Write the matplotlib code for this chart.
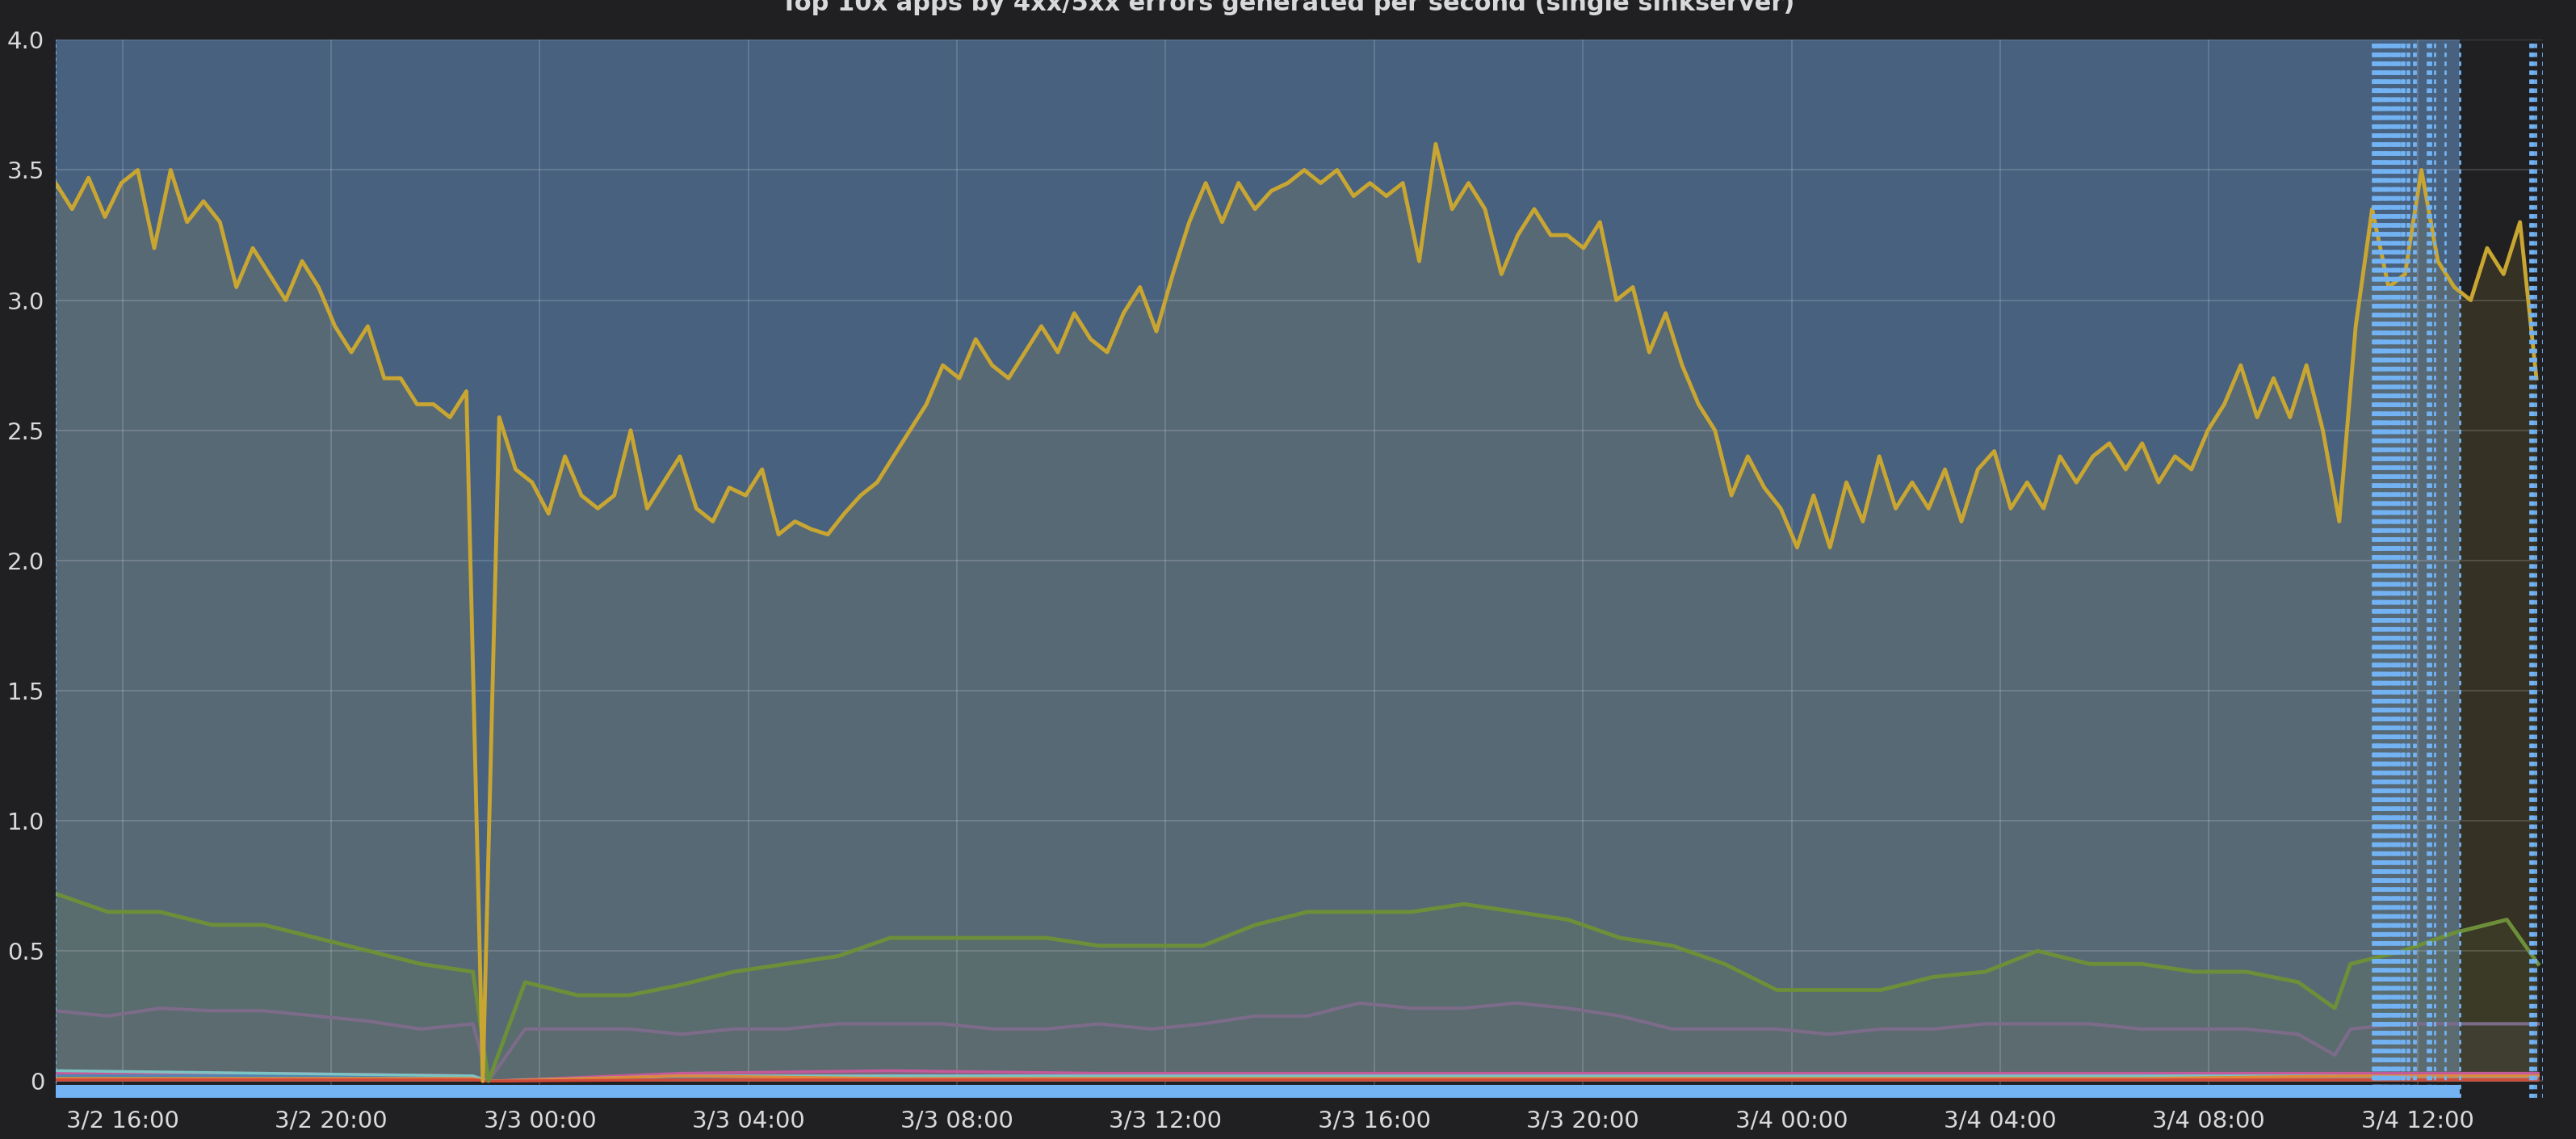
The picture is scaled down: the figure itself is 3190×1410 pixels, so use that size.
import matplotlib
matplotlib.use("Agg")
import matplotlib.pyplot as plt
import matplotlib.dates as mdates
import pandas as pd
import numpy as np

start = pd.Timestamp("2024-03-02 14:43")
end = pd.Timestamp("2024-03-04 14:24")

yellow_vals = [3.45,3.35,3.47,3.32,3.45,3.5,3.2,3.5,3.3,3.38,3.3,3.05,3.2,3.1,3.0,3.15,3.05,2.9,2.8,2.9,2.7,2.7,2.6,2.6,2.55,2.65,0.0,
 2.55,2.35,2.3,2.18,2.4,2.25,2.2,2.25,2.5,2.2,2.3,2.4,2.2,2.15,2.28,2.25,2.35,2.1,2.15,2.12,2.1,2.18,2.25,2.3,2.4,2.5,2.6,2.75,2.7,2.85,
 2.75,2.7,2.8,2.9,2.8,2.95,2.85,2.8,2.95,3.05,2.88,3.1,3.3,3.45,3.3,3.45,3.35,3.42,3.45,3.5,3.45,3.5,3.4,3.45,3.4,3.45,3.15,3.6,3.35,
 3.45,3.35,3.1,3.25,3.35,3.25,3.25,3.2,3.3,3.0,3.05,2.8,2.95,2.75,2.6,2.5,2.25,2.4,2.28,2.2,2.05,2.25,2.05,2.3,2.15,2.4,2.2,2.3,2.2,
 2.35,2.15,2.35,2.42,2.2,2.3,2.2,2.4,2.3,2.4,2.45,2.35,2.45,2.3,2.4,2.35,2.5,2.6,2.75,2.55,2.7,2.55,2.75,2.5,2.15,2.9,3.35,3.05,3.1,
 3.5,3.15,3.05,3.0,3.2,3.1,3.3,2.7]
yellow_end = pd.Timestamp("2024-03-04 14:17")

gp_hours = [0,1,2,3,4,5,6,7,8,8.3] + list(range(9,44)) + [43.7,44,45,46,47,47.6]
green_vals = [.72,.65,.65,.6,.6,.55,.5,.45,.42,0.0,
 .38,.33,.33,.37,.42,.45,.48,.55,.55,.55,.55,.52,.52,.52,.6,.65,.65,.65,.68,.65,.62,.55,.52,.45,.35,.35,.35,.4,.42,.5,.45,.45,.42,.42,.38,
 .28,.45,.5,.57,.62,.45]
purple_vals = [.27,.25,.28,.27,.27,.25,.23,.2,.22,0.0,
 .2,.2,.2,.18,.2,.2,.22,.22,.22,.2,.2,.22,.2,.22,.25,.25,.3,.28,.28,.3,.28,.25,.2,.2,.2,.18,.2,.2,.22,.22,.22,.2,.2,.2,.18,
 .1,.2,.22,.22,.22,.22]

small_hours = [0,4,8,8.3,12,16,20,24,28,32,36,40,44,47.6]
small_series = {
    "#c45a9a": [.03,.03,.02,0,.03,.04,.03,.03,.03,.03,.03,.03,.03,.03],
    "#4f86b0": [.02,.02,.02,0,.01,.02,.02,.02,.02,.02,.02,.02,.02,.02],
    "#7cc4c4": [.04,.03,.02,0,.02,.02,.02,.02,.02,.02,.02,.02,.02,.02],
    "#e0883a": [.01,.01,.01,0,.02,.01,.01,.01,.01,.01,.01,.01,.02,.02],
    "#d04a3a": [.005,.005,.005,0,.005,.005,.005,.005,.005,.005,.005,.005,.005,.005],
}

# annotation markers: minutes relative to 3/4 12:00
anno_minutes = [-52,-51,-50,-49,-48,-47,-46,-45,-44,-43,-42,-41,-40,-39,-38,-37,-36,-34,-33,-31,-29,-28,-27,-26,-25,-24,
                -22,-21,-18,-17,-16,-15,-12,-11,-10,-4,-2,12,13,15,20,32,49,130,131,133,136,144,147]
anno_region_end_min = 49
tick_labels = ["3/2 16:00","3/2 20:00","3/3 00:00","3/3 04:00","3/3 08:00","3/3 12:00",
               "3/3 16:00","3/3 20:00","3/4 00:00","3/4 04:00","3/4 08:00","3/4 12:00"]
yticks = [0,0.5,1.0,1.5,2.0,2.5,3.0,3.5,4.0]

bg = "#202022"
fig = plt.figure(figsize=(31.9,14.1), dpi=100, facecolor=bg)
ax = fig.add_axes([0.0216,0.036,0.9654,0.929])
ax.set_facecolor(bg)
noon = pd.Timestamp("2024-03-04 12:00")
region_end = noon + pd.Timedelta(minutes=anno_region_end_min)
ax.axvspan(start, region_end, ymin=0.016, ymax=1, color="#47617f", zorder=0, lw=0)

ty = pd.date_range(start, yellow_end, periods=len(yellow_vals))
tg = [start + pd.Timedelta(hours=h) for h in gp_hours]
ts = [start + pd.Timedelta(hours=h) for h in small_hours]

ax.fill_between(ty, 0, yellow_vals, color="#c9a632", alpha=0.13, lw=0, zorder=1)
ax.fill_between(tg, 0, green_vals, color="#6d8f3a", alpha=0.1, lw=0, zorder=1)
ax.fill_between(tg, 0, purple_vals, color="#7d6b8a", alpha=0.1, lw=0, zorder=1)
for c, v in small_series.items():
    ax.fill_between(ts, 0, v, color=c, alpha=0.4, lw=0, zorder=2)
    ax.plot(ts, v, color=c, lw=2.5, zorder=3)
ax.plot(tg, purple_vals, color="#7d6b8a", lw=3, zorder=3)
ax.plot(tg, green_vals, color="#6d8f3a", lw=3.5, zorder=3)
ax.plot(ty, yellow_vals, color="#c9a632", lw=3.5, zorder=4)

for m in anno_minutes:
    ax.axvline(noon + pd.Timedelta(minutes=m), color="#73b3f3", lw=2, ls=(0,(2,2)), zorder=5)
ax.axvline(start, color="#73b3f3", lw=1.5, ls=(0,(2,2)), zorder=5)
ax.axhspan(-0.065, -0.015, xmin=0, xmax=(mdates.date2num(region_end)-mdates.date2num(start))/(mdates.date2num(end)-mdates.date2num(start)),
           color="#73b3f3", lw=0, zorder=5)

ax.set_xlim(start, end)
ax.set_ylim(-0.065, 4.0)
ticks = pd.date_range("2024-03-02 16:00", periods=len(tick_labels), freq="4h")
ax.set_xticks(ticks)
ax.set_xticklabels(tick_labels)
ax.set_yticks(yticks)
ax.set_yticklabels(["0"] + [f"{v:.1f}" for v in yticks[1:]])
ax.grid(True, color="#ffffff", alpha=0.18, lw=1.2)
ax.tick_params(colors="#d8d9da", labelsize=21, length=0, pad=10)
for s in ax.spines.values():
    s.set_visible(False)
fig.text(0.5, 0.997, "Top 10x apps by 4xx/5xx errors generated per second (single sinkserver)",
         ha="center", va="center", color="#d8d9da", fontsize=22, fontweight="bold")
fig.savefig("out.png", dpi=100, facecolor=bg)
